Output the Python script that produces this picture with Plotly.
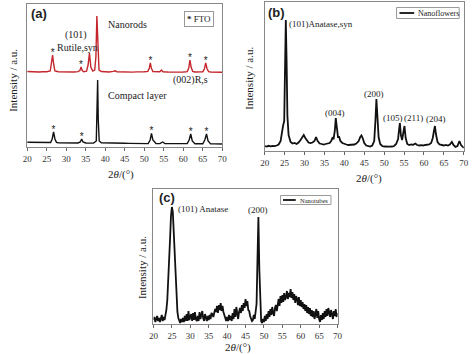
import numpy as np
import plotly.graph_objects as go

# ---------------- data ----------------
# (a) Nanorods (red) and Compact layer (black), 2theta vs intensity (a.u.)
rods_x = [20,21,22,23,24,25,25.9,26.2,26.5,26.8,27.1,28,29,30,31,32,33,33.5,33.8,34.1,34.5,35.2,35.6,35.95,36.3,36.8,
          37.3,37.6,37.85,38.1,38.4,39,40,41,42,42.5,43,44,45,46,47,48,49,50,50.9,51.3,51.55,51.8,52.2,53,54,54.4,54.8,
          56,57,58,59,60,61,61.4,61.7,62.0,62.4,63,64,65,65.4,65.75,66.1,66.5,67,68,69,70]
rods_y = [75.5,75.2,75.4,75.0,75.3,75.2,76,84,92,82,76,75.2,75.0,75.3,75.1,75.0,75.4,76.5,80,76.5,75.3,75.8,82,94,80,76,
          77,90,131,95,77,75.5,75.3,75.0,75.6,76.2,75.3,75.1,75.0,75.2,74.9,75.1,75.0,75.2,75.6,79,84,79,75.5,75.1,75.3,77,75.3,
          75.0,75.2,75.1,74.9,75.0,75.4,79,87,80,75.5,75.0,75.1,75.3,78,84,78,75.3,75.0,74.9,75.1,74.8]
compact_x = [20,21,22,23,24,25,26,26.4,26.75,27.1,27.5,28,29,30,31,32,33,33.6,33.95,34.3,35,36,37,37.7,37.9,38.05,38.2,38.45,
             39,40,41,42,43,44,45,46,47,48,49,50,51,51.5,51.85,52.2,53,54,54.7,55.3,56,57,58,59,60,61,61.5,61.9,62.3,
             63,64,65,65.5,65.95,66.35,67,68,69,70]
compact_y = [4.8,4.7,4.6,4.6,4.5,4.4,4.5,8,15,8,4.6,4.3,4.2,4.2,4.1,4.1,4.0,5,8,5,4.0,3.9,4.0,6,30,67,28,6,
             4.2,4.0,3.9,3.8,3.8,3.7,3.7,3.6,3.6,3.5,3.5,3.5,3.4,7,13.5,7,3.5,3.4,5,3.4,3.4,3.3,3.3,3.3,3.3,3.4,7,13,6,
             3.2,3.2,3.2,7,13,6,3.1,3.1,3.0,3.0]
fto_rods_2theta = [26.5, 33.8, 51.55, 61.7, 65.75]
fto_compact_2theta = [26.75, 33.95, 51.85, 61.9, 65.95]

# (b) Nanoflowers
flowers_x = [20,20.5,21,21.5,22,22.5,23,23.5,24,24.4,24.6,24.9,25.1,25.3,25.5,25.7,26,26.5,27,27.5,28,28.5,29,29.5,29.8,
             30.2,30.6,31,31.5,32,32.5,32.9,33.3,33.8,34.3,34.8,35.3,35.8,36.3,36.7,37.0,37.3,37.6,37.85,38.1,38.4,38.7,
             39.0,39.5,40,40.5,41,41.5,42,42.5,43,43.6,44.0,44.3,44.6,45.0,45.5,46,46.5,47,47.5,47.8,48.05,48.3,48.6,49,
             49.5,50,50.5,51,51.5,52,52.5,53,53.5,53.75,53.95,54.2,54.5,54.8,55.1,55.4,55.8,56.3,56.8,57.3,57.8,58.3,58.8,
             59.3,59.8,60.3,60.8,61.3,61.8,62.2,62.5,62.75,63.0,63.4,63.9,64.4,65,65.5,66,66.5,67.0,67.4,67.9,68.4,68.9,
             69.3,69.7,70]
flowers_y = [5,4.5,5.2,4.6,5,4.8,5.5,6.5,10,22,25,30,80,131,90,35,16,9,7.5,8,7,8.5,11,15,16,
             13,10,8.5,8,8.5,10,14,10,7.5,7,6.5,7,7.5,8,10,13,12,20,33,22,14,14,
             10,8,7,6.5,6,6.2,6,6.5,7.5,10,14,15.5,13,8,5.5,5,4.5,5.5,10,30,52,35,14,7,
             5,4.5,4.2,4.5,4.3,4.5,5,7,12,22,28,16,11,18,25,13,7,6,6.5,6.2,7.5,6,5.5,
             5.8,5.5,6,6.2,6.5,8,13,20,25,17,9,6.5,5.8,5.5,6,5.5,6.5,9,6,4,5,10,
             6,3.5,3]

# (c) Nanotubes (step 0.25 deg from 20 to 70)
tubes_x = np.arange(20, 70.001, 0.25)
tubes_y = [4,7,2,6, 8,3,6,2, 5,9,3,7, 4,8,14,24, 40,60,85,108, 117,112,92,66, 42,24,12,6, 3,1,5,2,
           6,2,8,3, 10,3,13,4, 7,10,3,11, 4,12,5,3, 8,3,12,5, 9,13,6,3, 10,5,3,8, 4,9,5,11,
           10,7,13,15, 12,18,11,19, 14,21,13,18, 12,9,6,3, 7,3,9,4, 8,3,11,5, 15,7,17,8, 5,12,16,11,
           19,13,21,16, 25,18,23,14, 13,8,5,3, 4,9,5,12, 20,65,107,55, 15,3,1,5, 2,8,3,10, 5,13,7,15,
           9,17,11,8, 16,19,13,22, 25,18,28,21, 29,22,31,24, 27,33,25,31, 27,35,26,32, 24,30,21,28,
           25,19,27,18, 24,17,22,15, 20,13,19,11, 17,10,16,8, 14,7,13,5, 11,15,6,13, 5,2,9,4,
           11,5,13,7, 15,8,16,10, 7,14,9,5, 13,8,15,7, 11]

x_ticks = [20, 25, 30, 35, 40, 45, 50, 55, 60, 65, 70]

# ---------------- figure ----------------
W, H = 474, 354
def fx(p): return p / W
def fy(p): return 1 - p / H

SERIF = "Liberation Serif, Times New Roman, serif"
SANS = "Liberation Sans, Arial, sans-serif"

fig = go.Figure()
fig.add_trace(go.Scatter(x=rods_x, y=rods_y, mode="lines", line=dict(color="#c4262c", width=1.4),
                         xaxis="x", yaxis="y", showlegend=False))
fig.add_trace(go.Scatter(x=compact_x, y=compact_y, mode="lines", line=dict(color="#111", width=1.4),
                         xaxis="x", yaxis="y", showlegend=False))
star_x = fto_rods_2theta + fto_compact_2theta
star_y = list(np.interp(fto_rods_2theta, rods_x, rods_y) + 2) + list(np.interp(fto_compact_2theta, compact_x, compact_y) + 2)
fig.add_trace(go.Scatter(x=star_x, y=star_y, mode="text", text=["*"] * len(star_x), textposition="middle center",
                         textfont=dict(family=SANS, size=10, color="#222"),
                         xaxis="x", yaxis="y", showlegend=False))
fig.add_trace(go.Scatter(x=flowers_x, y=flowers_y, mode="lines", line=dict(color="#111", width=1.8),
                         xaxis="x2", yaxis="y2", showlegend=False))
fig.add_trace(go.Scatter(x=tubes_x, y=tubes_y, mode="lines", line=dict(color="#111", width=1.8),
                         xaxis="x3", yaxis="y3", showlegend=False))

def xax(domain):
    return dict(domain=domain, range=[20, 70], tickvals=x_ticks, ticks="outside", ticklen=3,
                tickcolor="#666", tickfont=dict(family=SERIF, size=9, color="#333"),
                showline=True, linecolor="#888", linewidth=1, mirror=True, showgrid=False, zeroline=False)
def yax(domain, rng, anchor):
    return dict(domain=domain, range=rng, showticklabels=False, ticks="", showline=True, linecolor="#888",
                linewidth=1, mirror=True, showgrid=False, zeroline=False, anchor=anchor)

lay = dict(width=W, height=H, margin=dict(l=0, r=0, t=0, b=0), paper_bgcolor="white", plot_bgcolor="white",
           showlegend=False)
lay["xaxis"] = dict(xax([fx(22.7), fx(222)]), anchor="y")
lay["yaxis"] = yax([fy(147), fy(4)], [0, 143], "x")
lay["xaxis2"] = dict(xax([fx(265.3), fx(468.7)]), anchor="y2")
lay["yaxis2"] = yax([fy(151), fy(2)], [0, 149], "x2")
lay["xaxis3"] = dict(xax([fx(151.7), fx(339.7)]), anchor="y3")
lay["yaxis3"] = yax([fy(324), fy(189)], [0, 135], "x3")
fig.update_layout(**lay)

ann = []
def T(text, x, y, size=10, xanchor="center", family=SERIF, color="#222", angle=0, **kw):
    ann.append(dict(text=text, x=fx(x), y=fy(y), xref="paper", yref="paper", xanchor=xanchor, yanchor="middle",
                    showarrow=False, font=dict(family=family, size=size, color=color), textangle=angle, **kw))

# panel (a)
T("<b>(a)</b>", 25, 13, size=13, xanchor="left", family=SANS)
T("Nanorods", 103, 24, size=10, xanchor="left")
T("(101)", 72.5, 35, size=10)
T("Rutile,syn", 74, 47.5, size=10)
T("(002)R,s", 189, 80, size=10)
T("Compact layer", 103, 95, size=10, xanchor="left")
T("Intensity / a.u.", 8, 80, size=11, angle=-90)
T("2<i>θ</i>/(°)", 119, 175, size=11)
T("<b>*</b> FTO", 198.5, 19, size=9, bordercolor="#999", borderwidth=1, borderpad=2)

# panel (b)
T("<b>(b)</b>", 267, 12, size=13, xanchor="left", family=SANS)
T("(101)Anatase,syn", 288.5, 24, size=9, xanchor="left")
T("(004)", 337, 113, size=9)
T("(200)", 377, 94, size=9)
T("(105)", 396, 118, size=9)
T("(211)", 417, 118, size=9)
T("(204)", 440, 119, size=9)
T("Intensity / a.u.", 249, 78, size=11, angle=-90)
T("2<i>θ</i>/(°)", 372, 179, size=11)
T("Nanoflowers", 420, 13, size=8, xanchor="left")

# panel (c)
T("<b>(c)</b>", 155, 198, size=13, xanchor="left", family=SANS)
T("(101) Anatase", 175, 209, size=9, xanchor="left")
T("(200)", 258, 210, size=9)
T("Intensity / a.u.", 140, 268, size=11, angle=-90)
T("2<i>θ</i>/(°)", 238, 347, size=11)
T("Nanotubes", 299, 200, size=6.5, xanchor="left")
fig.update_layout(annotations=ann)

shapes = [
    dict(type="rect", xref="paper", yref="paper", x0=fx(400), x1=fx(464), y0=fy(18.5), y1=fy(7.5),
         line=dict(color="#999", width=1)),
    dict(type="line", xref="paper", yref="paper", x0=fx(403), x1=fx(418), y0=fy(13), y1=fy(13),
         line=dict(color="#111", width=1.8)),
    dict(type="rect", xref="paper", yref="paper", x0=fx(281.5), x1=fx(333), y0=fy(204.5), y1=fy(195.5),
         line=dict(color="#999", width=1)),
    dict(type="line", xref="paper", yref="paper", x0=fx(284), x1=fx(297), y0=fy(200), y1=fy(200),
         line=dict(color="#111", width=1.8)),
]
fig.update_layout(shapes=shapes)

fig.write_html("out.html")
